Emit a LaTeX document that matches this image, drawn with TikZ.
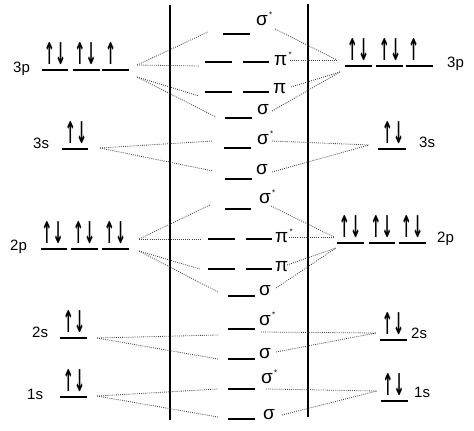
\documentclass[tikz,border=0pt]{standalone}
\usepackage{fontspec}
\setmainfont{Liberation Sans}
\newfontfamily\arrowfont{DejaVu Sans}
\newcommand\mostar{\hspace{1.2pt}\raisebox{7.5pt}{\fontsize{8}{8}\selectfont *}}
\newcommand\elec[1]{\scalebox{0.66}[1.5]{\arrowfont\bfseries #1}}
\begin{document}
\begin{tikzpicture}[x=1pt,y=-1pt,
  lvl/.style={line width=2.6pt},
  wall/.style={line width=2.6pt},
  corr/.style={line width=0.8pt, dash pattern=on 0.9pt off 1.2pt, black!75},
  mo/.style={anchor=base west, inner sep=0pt, font=\fontsize{19}{19}\selectfont},
  ao/.style={anchor=base west, inner sep=0pt, font=\fontsize{15}{15}\selectfont},
  el/.style={anchor=base, inner sep=0pt, font=\fontsize{20}{20}\selectfont},
  elw/.style={anchor=base west, inner sep=0pt, font=\fontsize{20}{20}\selectfont},
]
\useasboundingbox (0,0) rectangle (474,431);

% walls
\coordinate (wl1) at (170,5); \coordinate (wl2) at (170,420);
\coordinate (wr1) at (308,4); \coordinate (wr2) at (308,417);
\draw[wall] (wl1) -- (wl2);
\draw[wall] (wr1) -- (wr2);

% molecular levels
\draw[lvl] (223,34) -- (250,34);
\draw[lvl] (205,62) -- (232,62); \draw[lvl] (243,62) -- (269,62);
\draw[lvl] (205,92) -- (232,92); \draw[lvl] (243,92) -- (269,92);
\draw[lvl] (225,118) -- (252,118);
\draw[lvl] (224,148) -- (251,148);
\draw[lvl] (225,179) -- (252,179);
\draw[lvl] (225,209) -- (251,209);
\draw[lvl] (208,239) -- (235,239); \draw[lvl] (246,239) -- (272,239);
\draw[lvl] (208,269) -- (235,269); \draw[lvl] (246,269) -- (272,269);
\draw[lvl] (228,296) -- (255,296);
\draw[lvl] (228,329) -- (255,329);
\draw[lvl] (228,359) -- (255,359);
\draw[lvl] (228,389) -- (255,389);
\draw[lvl] (228,419) -- (255,419);

% MO labels
\node[mo] (t3pss) at (256,25) {σ\mostar};
\node[mo] (t3pps) at (274,65) {π\mostar};
\node[mo] (t3pp)  at (273,93) {π};
\node[mo] (t3ps)  at (257,114) {σ};
\node[mo] (t3sss) at (257,144) {σ\mostar};
\node[mo] (t3ss)  at (256,174) {σ};
\node[mo] (t2pss) at (259,203) {σ\mostar};
\node[mo] (t2pps) at (275,242) {π\mostar};
\node[mo] (t2pp)  at (275,271) {π};
\node[mo] (t2ps)  at (259,295) {σ};
\node[mo] (t2sss) at (259,325) {σ\mostar};
\node[mo] (t2ss)  at (259,358) {σ};
\node[mo] (t1sss) at (261,383) {σ\mostar};
\node[mo] (t1ss)  at (263,419) {σ};

% left atomic levels
\draw[lvl] (42,70) -- (68,70); \draw[lvl] (73,70) -- (100,70); \draw[lvl] (102,70) -- (129,70);
\draw[lvl] (62,149) -- (88,149);
\draw[lvl] (41,249) -- (67,249); \draw[lvl] (71,249) -- (98,249); \draw[lvl] (102,249) -- (129,249);
\draw[lvl] (60,338) -- (87,338);
\draw[lvl] (60,397) -- (87,397);
% right atomic levels
\draw[lvl] (345,66) -- (372,66); \draw[lvl] (376,66) -- (403,66); \draw[lvl] (406,66) -- (433,66);
\draw[lvl] (378,149) -- (406,149);
\draw[lvl] (337,243) -- (364,243); \draw[lvl] (369,243) -- (395,243); \draw[lvl] (399,243) -- (426,243);
\draw[lvl] (380,340) -- (407,340);
\draw[lvl] (381,401) -- (408,401);

% AO labels
\node[ao] (a3pl) at (13,72) {3p};
\node[ao] (a3sl) at (33,148) {3s};
\node[ao] (a2pl) at (10,250) {2p};
\node[ao] (a2sl) at (32,337) {2s};
\node[ao] (a1sl) at (27,399) {1s};
\node[ao] (a3pr) at (447,67) {3p};
\node[ao] (a3sr) at (419,147) {3s};
\node[ao] (a2pr) at (437,242) {2p};
\node[ao] (a2sr) at (411,338) {2s};
\node[ao] (a1sr) at (414,397) {1s};

% electrons
\node[el] (e3pl1) at (55,64) {\elec{↑↓}};
\node[el] (e3pl2) at (85.5,64) {\elec{↑↓}};
\node[elw] (e3pl3) at (105,64) {\elec{↑}};
\node[el] (e3sl) at (76,143) {\elec{↑↓}};
\node[el] (e2pl1) at (52.5,243) {\elec{↑↓}};
\node[el] (e2pl2) at (84,243) {\elec{↑↓}};
\node[el] (e2pl3) at (115,243) {\elec{↑↓}};
\node[el] (e2sl) at (74,332) {\elec{↑↓}};
\node[el] (e1sl) at (74,391) {\elec{↑↓}};
\node[el] (e3pr1) at (358,60) {\elec{↑↓}};
\node[el] (e3pr2) at (390,60) {\elec{↑↓}};
\node[elw] (e3pr3) at (408,60) {\elec{↑}};
\node[el] (e3sr) at (393,143) {\elec{↑↓}};
\node[el] (e2pr1) at (350,237) {\elec{↑↓}};
\node[el] (e2pr2) at (381.5,237) {\elec{↑↓}};
\node[el] (e2pr3) at (412,237) {\elec{↑↓}};
\node[el] (e2sr) at (393,334) {\elec{↑↓}};
\node[el] (e1sr) at (393.5,395) {\elec{↑↓}};

% fan points
\coordinate (l3pu) at (137,65); \coordinate (l3pd) at (137,77);
\coordinate (l3s) at (100,148);
\coordinate (l2pu) at (139,239); \coordinate (l2pd) at (139,251);
\coordinate (l2s) at (97,338); \coordinate (l1s) at (97,396);
\coordinate (r3pu) at (337,60); \coordinate (r3pd) at (340,72);
\coordinate (r3s) at (369,145);
\coordinate (r2pu) at (334,237); \coordinate (r2pd) at (336,248);
\coordinate (r2s) at (376,333); \coordinate (r1s) at (377,391);

% MO ends, left side
\coordinate (L3pss) at (208,32); \coordinate (L3pps) at (199,66);
\coordinate (L3pp) at (199,96); \coordinate (L3ps) at (216,117);
\coordinate (L3sss) at (213,141); \coordinate (L3ss) at (213,171);
\coordinate (L2pss) at (210,205); \coordinate (L2pps) at (200,239);
\coordinate (L2pp) at (200,269); \coordinate (L2ps) at (218,292);
\coordinate (L2sss) at (218,335); \coordinate (L2ss) at (218,359);
\coordinate (L1sss) at (218,389); \coordinate (L1ss) at (218,417);
% MO ends, right side
\coordinate (R3pss) at (275,29); \coordinate (R3pps) at (290,60);
\coordinate (R3pp) at (291,87); \coordinate (R3ps) at (272,111);
\coordinate (R3sss) at (272,141); \coordinate (R3ss) at (272,172);
\coordinate (R2pss) at (271,206); \coordinate (R2pps) at (289,237);
\coordinate (R2pp) at (287,265); \coordinate (R2ps) at (276,288);
\coordinate (R2sss) at (261,332); \coordinate (R2ss) at (276,352);
\coordinate (R1sss) at (266,389); \coordinate (R1ss) at (282,415);

% correlation lines
\draw[corr] (l3pu) -- (L3pss); \draw[corr] (l3pu) -- (L3pps);
\draw[corr] (l3pd) -- (L3pp);  \draw[corr] (l3pd) -- (L3ps);
\draw[corr] (l3s) -- (L3sss);  \draw[corr] (l3s) -- (L3ss);
\draw[corr] (l2pu) -- (L2pss); \draw[corr] (l2pu) -- (L2pps);
\draw[corr] (l2pd) -- (L2pp);  \draw[corr] (l2pd) -- (L2ps);
\draw[corr] (l2s) -- (L2sss);  \draw[corr] (l2s) -- (L2ss);
\draw[corr] (l1s) -- (L1sss);  \draw[corr] (l1s) -- (L1ss);
\draw[corr] (R3pss) -- (r3pu); \draw[corr] (R3pps) -- (r3pu);
\draw[corr] (R3pp) -- (r3pd);  \draw[corr] (R3ps) -- (r3pd);
\draw[corr] (R3sss) -- (r3s);  \draw[corr] (R3ss) -- (r3s);
\draw[corr] (R2pss) -- (r2pu); \draw[corr] (R2pps) -- (r2pu);
\draw[corr] (R2pp) -- (r2pd);  \draw[corr] (R2ps) -- (r2pd);
\draw[corr] (R2sss) -- (r2s);  \draw[corr] (R2ss) -- (r2s);
\draw[corr] (R1sss) -- (r1s);  \draw[corr] (R1ss) -- (r1s);
\end{tikzpicture}
\end{document}
